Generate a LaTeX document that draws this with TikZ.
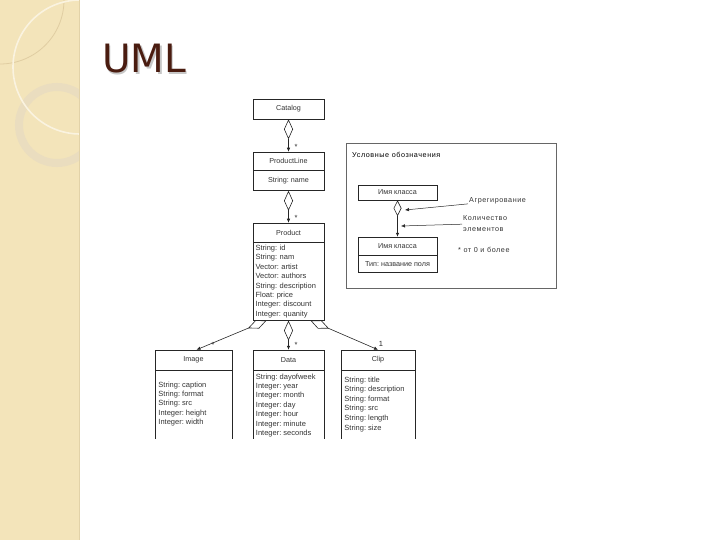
\documentclass[tikz,border=0pt]{standalone}
\usepackage{fontspec}
\setmainfont{Liberation Sans}
\newfontfamily\titlefont{DejaVu Sans}
\newfontfamily\widefont[LetterSpace=8]{Liberation Sans}
\usetikzlibrary{positioning,arrows.meta,calc}
\frenchspacing

\definecolor{stripbeige}{HTML}{F3E4BA}
\definecolor{stripedge}{HTML}{E2D2A8}
\definecolor{ringbeige}{HTML}{EADDBF}
\definecolor{arcwhite}{HTML}{FAF3E0}
\definecolor{leafline}{HTML}{E0CDA2}
\definecolor{titlebrown}{HTML}{4A1C10}

\tikzset{
  cls/.style={draw=black!85, line width=0.5pt, minimum width=71pt, inner sep=1pt,
    font=\fontsize{7.2}{9.4}\selectfont, text=black!80},
  fieldtext/.style={anchor=north west, align=left, inner sep=1pt,
    font=\fontsize{7.5}{9.4}\selectfont, text=black!80},
  lbl/.style={inner sep=1pt, font=\widefont\fontsize{7.2}{11}\selectfont, text=black!80},
  mult/.style={inner sep=0pt, font=\fontsize{7.5}{8}\selectfont, text=black!85},
  agg/.style={{Diamond[open,length=20pt,width=9pt]}-{Latex[length=4pt,width=3.5pt]},
    line width=0.6pt, draw=black!85},
  note/.style={-{Latex[length=4pt,width=3.5pt]}, line width=0.5pt, draw=black!85}
}

\begin{document}
\begin{tikzpicture}[x=1pt, y=-1pt]
  \useasboundingbox (0,0) rectangle (720,540);
  % side strip
  \fill[stripbeige] (0,0) rectangle (79,540);
  \begin{scope}
    \clip (0,0) rectangle (79,540);
    \draw[leafline, line width=0.8pt] (64,0) arc[start angle=0, end angle=-90, radius=64pt];
    \draw[ringbeige, line width=8pt] (57,125) circle[radius=38pt];
    \draw[arcwhite, line width=1.6pt] (80,67) circle[radius=67pt];
  \end{scope}
  \draw[stripedge, line width=0.6pt] (79,0) -- (79,540);

  % title
  \node (titleshadow) [anchor=base west, inner sep=0pt, text=black!22,
    font=\titlefont\fontsize{39}{40}\selectfont] at (103.5,74.5) {UML};
  \node (title) [anchor=base west, inner sep=0pt, text=titlebrown,
    font=\titlefont\fontsize{39}{40}\selectfont] at (102,73) {UML};

  \begin{scope}
    \clip (80,0) rectangle (720,438);
    % classes
    \node (catalog) [cls, minimum height=20pt] at (288.5,109) {Catalog};
    \node (prodline) [cls, minimum height=18pt] at (288.5,161) {ProductLine};
    \node (prodlinef) [cls, minimum height=20pt, below=0pt of prodline] {String: name};
    \node (product) [cls, minimum height=19pt] at (288.5,232.5) {Product};
    \node (productf) [cls, below=0pt of product, text width=66pt, align=left, inner xsep=2.5pt,
      inner ysep=2.5pt, font=\fontsize{7.5}{9.4}\selectfont]
      {String: id\\String: nam\\Vector: artist\\Vector: authors\\String: description\\Float: price\\Integer: discount\\Integer: quanity};

    \node (image) [cls, minimum width=77pt, minimum height=20pt] at (193.5,360) {Image};
    \node (imagef) [cls, minimum width=77pt, minimum height=80pt, below=0pt of image] {};
    \node (imaget) [fieldtext] at ($(imagef.north west)+(2.5,10.3)$)
      {String: caption\\String: format\\String: src\\Integer: height\\Integer: width};

    \node (data) [cls, minimum height=20pt] at (288.5,360) {Data};
    \node (dataf) [cls, minimum height=80pt, below=0pt of data] {};
    \node (datat) [fieldtext] at ($(dataf.north west)+(2,2.3)$)
      {String: dayofweek\\Integer: year\\Integer: month\\Integer: day\\Integer: hour\\Integer: minute\\Integer: seconds};

    \node (clipc) [cls, minimum width=74pt, minimum height=20pt] at (378,360) {Clip};
    \node (clipcf) [cls, minimum width=74pt, minimum height=80pt, below=0pt of clipc] {};
    \node (clipct) [fieldtext, font=\fontsize{7.5}{9.6}\selectfont] at ($(clipcf.north west)+(2.5,5.3)$)
      {String: title\\String: description\\String: format\\String: src\\String: length\\String: size};

    % aggregations
    \draw[agg] (catalog) -- (prodline);
    \draw[agg] (prodlinef) -- (product);
    \draw[agg] ($(productf.south)+(-22,0)$) -- ($(image.north)+(3,0)$);
    \draw[agg] (productf) -- (data);
    \draw[agg] ($(productf.south)+(22,0)$) -- (clipc.north);

    \node (mcat) [mult] at (296,147) {*};
    \node (mprod) [mult] at (296,218) {*};
    \node (mimage) [mult] at (213,345) {*};
    \node (mdata) [mult] at (296,345) {*};
    \node (mclip) [mult] at (381,344) {1};

    % legend
    \node (legend) [draw=black!60, line width=0.5pt, minimum width=210pt, minimum height=145pt,
      inner sep=0pt] at (451.5,215.5) {};
    \node (legendtitle) [lbl, anchor=west, text=black] at (351,155) {Условные обозначения};
    \node (lgclass) [cls, minimum width=79pt, minimum height=15pt] at (397.5,192.5) {Имя класса};
    \node (lgpart) [cls, minimum width=79pt, minimum height=18pt] at (397.5,246) {Имя класса};
    \node (lgpartf) [cls, minimum width=79pt, minimum height=17pt, below=0pt of lgpart]
      {Тип: название поля};
    \draw[agg, {Diamond[open,length=16pt,width=8pt]}-{Latex[length=4pt,width=3.5pt]}]
      (lgclass) -- (lgpart);

    \coordinate (aggpt) at (405,210);
    \coordinate (cntpt) at (401,226);
    \node (agrtext) [lbl, anchor=west] at (468,201) {Агрегирование};
    \node (cnttext) [lbl, anchor=west, align=left] at (462,223.5) {Количество\\элементов};
    \node (anytext) [lbl, anchor=west] at (457,250) {* от 0 и более};
    \draw[note] (agrtext) -- (aggpt);
    \draw[note] (cnttext) -- (cntpt);
  \end{scope}
\end{tikzpicture}
\end{document}
